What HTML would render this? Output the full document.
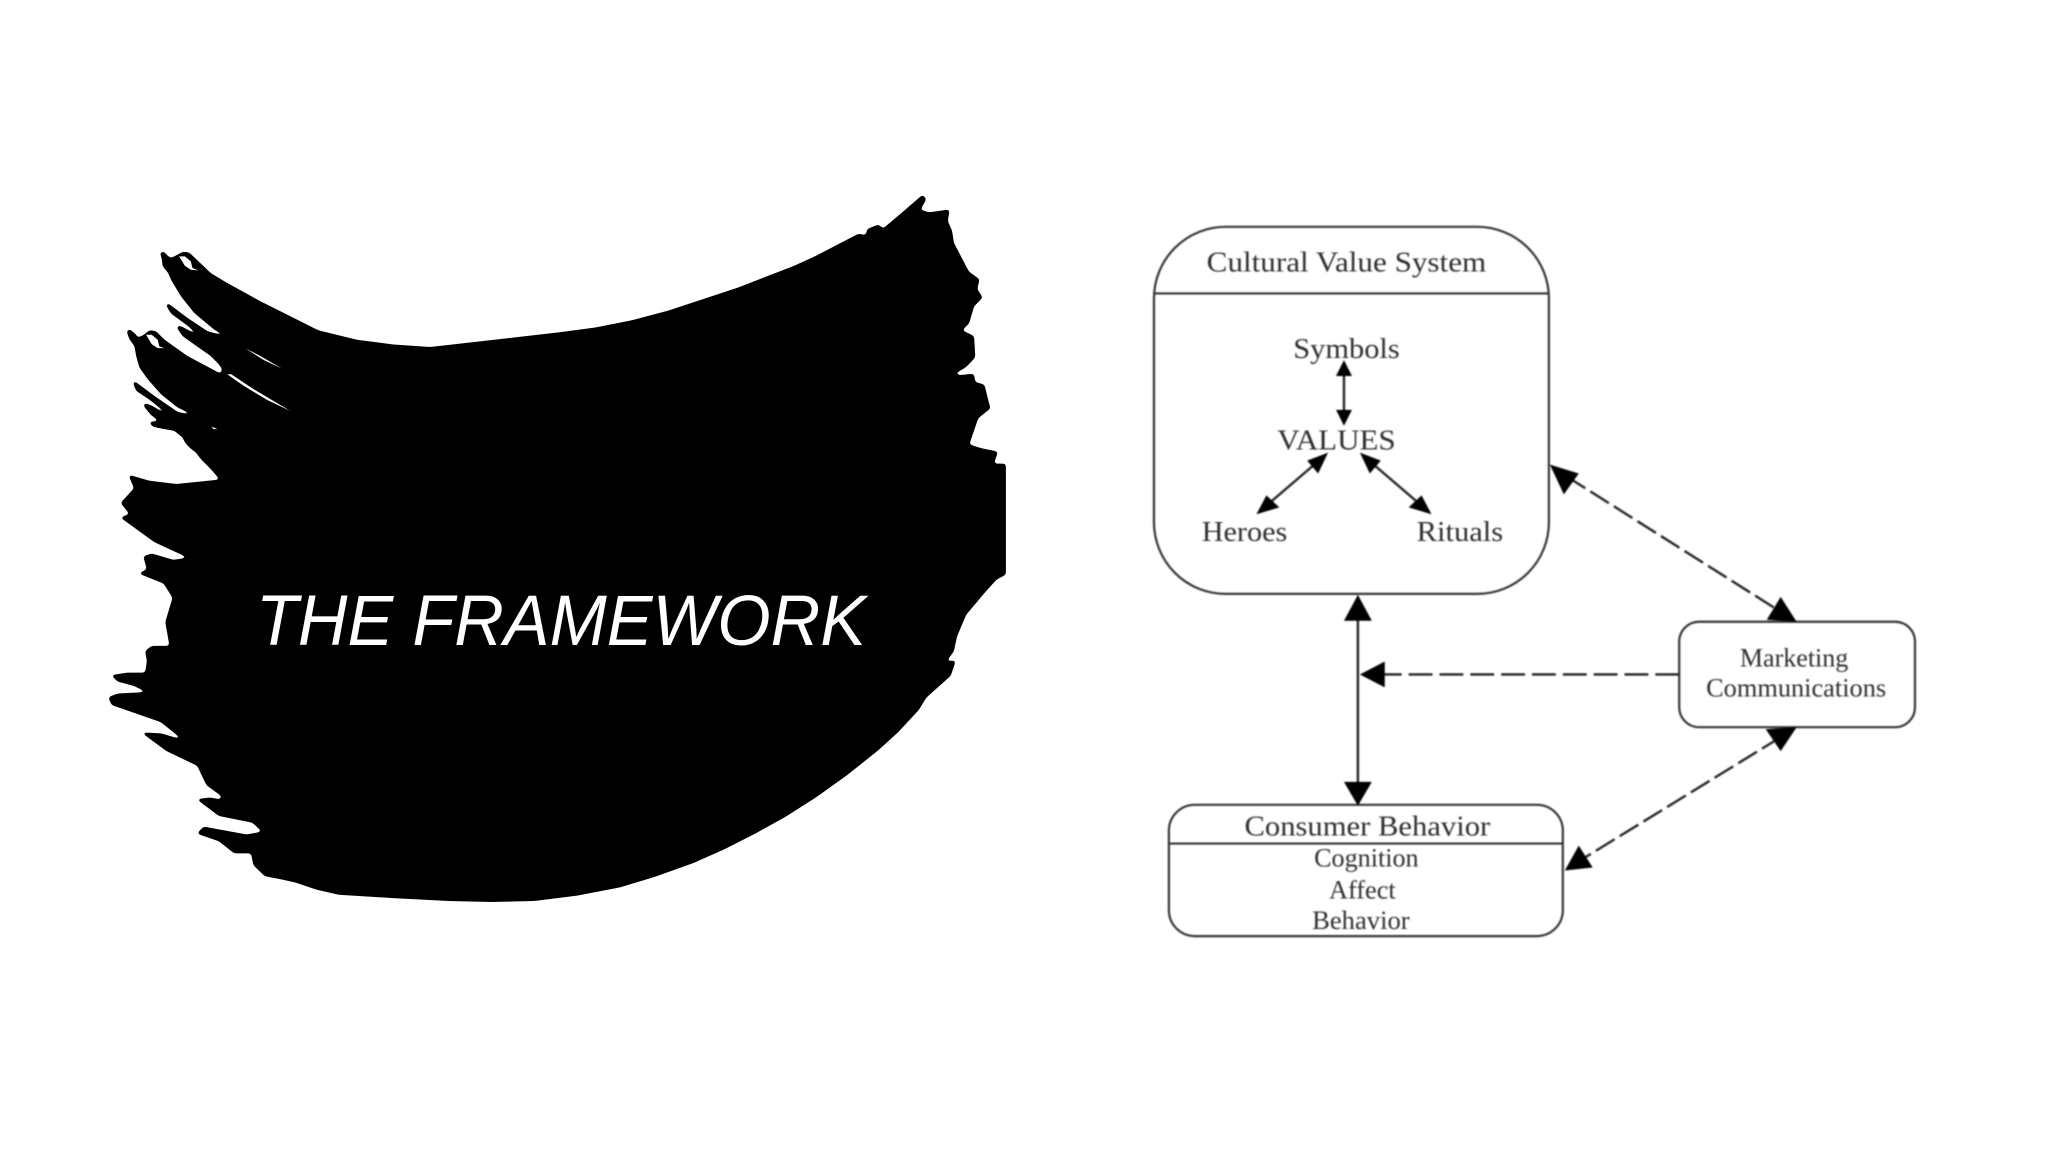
<!DOCTYPE html>
<html><head><meta charset="utf-8"><style>
html,body{margin:0;padding:0;background:#fff;width:2048px;height:1152px;overflow:hidden}
svg{display:block}
.d text{font-family:"Liberation Serif",serif;fill:#2e2e2e;font-size:29px}
</style></head><body>
<svg width="2048" height="1152" viewBox="0 0 2048 1152">
<defs>
<filter id="sm" filterUnits="userSpaceOnUse" x="0" y="0" width="1200" height="1152" color-interpolation-filters="sRGB">
<feGaussianBlur stdDeviation="1.6"/>
<feComponentTransfer><feFuncA type="linear" slope="8" intercept="-3.5"/></feComponentTransfer>
</filter>
</defs>
<rect width="2048" height="1152" fill="#fff"/>
<g filter="url(#sm)">
<g transform="matrix(.9942 0 0 .9963 1.9 .7)">
<g transform="translate(80,170) scale(0.6154,0.4878)">
<polygon fill="#000" stroke="#000" stroke-width="2" stroke-linejoin="round" points="225,638 385,330 450,350 510,360 570,365 675,350 780,335 840,325 900,310 960,290 1020,265 1075,242 1130,215 1165,198 1200,178 1270,132 1283,135 1285,122 1303,113 1310,122 1340,90 1375,52 1380,60 1370,82 1385,88 1418,82 1415,105 1422,125 1425,150 1450,210 1467,225 1463,245 1472,262 1458,280 1450,315 1438,330 1458,342 1460,385 1445,405 1425,420 1435,423 1458,420 1460,437 1475,442 1482,478 1485,490 1465,510 1450,565 1470,573 1497,580 1490,605 1510,605 1510,832 1495,842 1475,870 1445,915 1430,960 1425,990 1412,1012 1428,1010 1420,1040 1380,1085 1368,1110 1335,1155 1300,1195 1250,1245 1200,1290 1150,1330 1100,1365 1050,1397 1000,1425 940,1452 880,1475 810,1492 740,1503 670,1505 600,1503 510,1497 420,1490 385,1480 350,1465 325,1458 300,1452 282,1430 278,1405 262,1405 250,1405 225,1380 190,1365 200,1352 270,1368 297,1362 280,1342 225,1328 190,1295 210,1292 228,1296 230,1288 205,1265 190,1225 140,1195 100,1158 130,1160 170,1175 130,1135 50,1100 45,1085 60,1078 110,1075 85,1060 60,1052 50,1040 75,1035 105,1035 108,1010 105,990 115,980 145,980 138,930 150,880 135,850 95,830 108,822 102,795 115,790 150,803 177,798 120,765 65,715 80,708 65,685 87,655 78,628 110,640 155,647"/>
</g>
<g transform="translate(110,240) scale(0.33333)">
<polygon fill="#000" points="148,37 158,35 165,42 170,48 180,55 190,50 205,42 215,36 235,38 250,52 300,100 350,130 450,185 560,240 620,270 660,288 660,720 323,717 300,690 270,660 255,640 235,625 222,610 215,595 190,575 160,570 125,563 113,548 145,546 120,528 97,500 100,491 120,498 172,530 150,508 110,478 75,455 65,430 70,425 130,470 200,518 260,532 200,505 150,465 110,420 85,385 75,350 70,320 55,300 46,275 55,268 75,285 80,295 100,285 115,272 135,275 160,300 230,350 330,403 335,390 325,375 300,350 250,315 215,290 198,265 200,257 215,262 272,295 235,262 180,222 165,197 170,190 230,235 290,275 358,295 310,270 250,220 210,170 180,120 172,100 155,80 152,55 147,40"/>
</g>
</g>
</g>
<g transform="matrix(.9942 0 0 .9963 1.9 .7)">
<g transform="translate(110,240) scale(0.33333)" fill="#fff">
<polygon points="405,327 450,350 515,388 460,362"/>
<polygon points="350,405 362,405 430,450 540,515 470,482 400,440"/>
<polygon points="303,562 320,570 308,570"/>
<polygon points="205,50 222,50 240,65 245,85 262,92 240,90 222,78"/>
<polygon points="105,286 122,286 140,301 145,321 160,326 140,326 122,314"/>
</g>
</g>
<text x="256" y="645" font-family="Liberation Sans, sans-serif" font-style="italic" font-size="71" fill="#fff" textLength="610" lengthAdjust="spacingAndGlyphs">THE FRAMEWORK</text>

<g class="d" style="filter:blur(0.7px)" transform="scale(0.9948)">
<g fill="none" stroke="#333" stroke-width="2.2">
<rect x="1160" y="228" width="397" height="369" rx="72" ry="72"/>
<line x1="1160" y1="295" x2="1557" y2="295"/>
<rect x="1175" y="809" width="396" height="132" rx="26" ry="26"/>
<line x1="1175" y1="848" x2="1571" y2="848"/>
<rect x="1688" y="625" width="237" height="106" rx="20" ry="20"/>
</g>
<g stroke="#222" stroke-width="2.4" fill="none">
<line x1="1365" y1="615" x2="1365" y2="795"/>
<line x1="1351" y1="372" x2="1351" y2="420"/>
<line x1="1327" y1="462" x2="1271" y2="510"/>
<line x1="1375" y1="462" x2="1431" y2="510"/>
<line x1="1688" y1="678" x2="1385" y2="678" stroke-dasharray="24 7"/>
<line x1="1575" y1="479" x2="1790" y2="615" stroke-dasharray="22 6"/>
<line x1="1790" y1="741" x2="1590" y2="864" stroke-dasharray="22 6"/>
</g>
<g fill="#000">
<polygon points="1365,598 1351,624 1379,624"/>
<polygon points="1365,810 1351,786 1379,786"/>
<polygon points="1367,678 1392,665 1392,691"/>
<polygon points="1351,362 1343,378 1359,378"/>
<polygon points="1351,428 1343,412 1359,412"/>
<polygon points="1335,455 1314,463 1325,476"/>
<polygon points="1263,517 1273,498 1286,510"/>
<polygon points="1367,455 1388,463 1377,476"/>
<polygon points="1439,517 1429,498 1416,510"/>
<polygon points="1558,467 1587,476 1572,497"/>
<polygon points="1806,625 1776,623 1790,600"/>
<polygon points="1806,731 1775,733 1790,755"/>
<polygon points="1573,875 1587,850 1601,872"/>
</g>
<text x="1213" y="273" textLength="281" lengthAdjust="spacingAndGlyphs">Cultural Value System</text>
<text x="1300" y="360" textLength="107" lengthAdjust="spacingAndGlyphs">Symbols</text>
<text x="1284" y="452" textLength="119" lengthAdjust="spacingAndGlyphs">VALUES</text>
<text x="1208" y="544" textLength="86" lengthAdjust="spacingAndGlyphs">Heroes</text>
<text x="1424" y="544" textLength="87" lengthAdjust="spacingAndGlyphs">Rituals</text>
<text x="1749" y="670" style="font-size:27px" textLength="109" lengthAdjust="spacingAndGlyphs">Marketing</text>
<text x="1715" y="700" style="font-size:27px" textLength="181" lengthAdjust="spacingAndGlyphs">Communications</text>
<text x="1251" y="840" textLength="247" lengthAdjust="spacingAndGlyphs">Consumer Behavior</text>
<text x="1321" y="871" style="font-size:26px" textLength="105" lengthAdjust="spacingAndGlyphs">Cognition</text>
<text x="1336" y="903" style="font-size:26px" textLength="67" lengthAdjust="spacingAndGlyphs">Affect</text>
<text x="1319" y="934" style="font-size:26px" textLength="98" lengthAdjust="spacingAndGlyphs">Behavior</text>
</g>
</svg>
</body></html>
